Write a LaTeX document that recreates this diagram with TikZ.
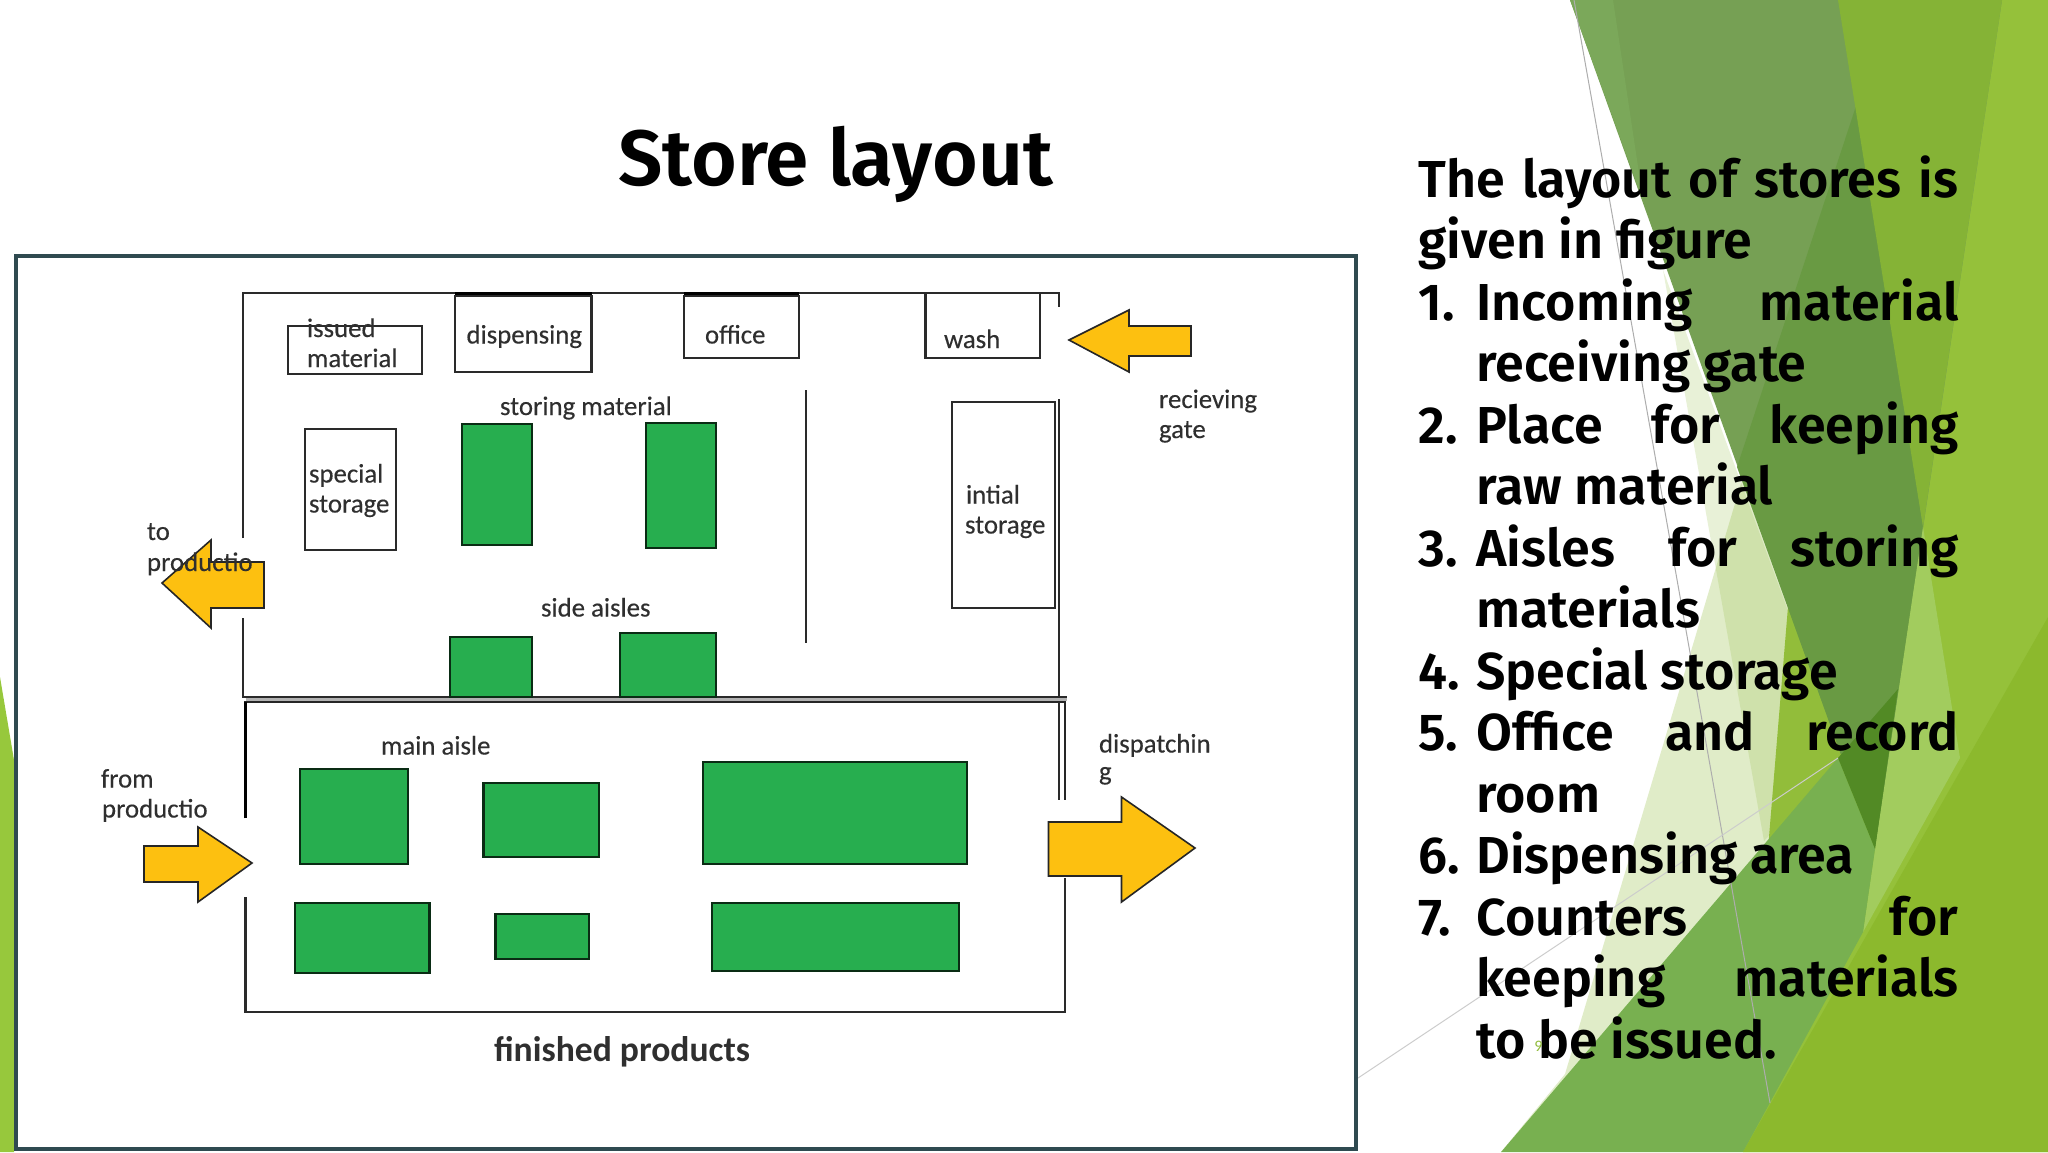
\documentclass[tikz,border=0pt]{standalone}
\usepackage{fontspec}
\setmainfont{Fira Sans}[BoldFont={Fira Sans SemiBold}]
\newfontfamily\lblfont{Carlito}[BoldFont={Carlito},BoldFeatures={FakeBold=0.3}]
\newfontfamily\lblbigfont{Carlito}
\definecolor{framec}{HTML}{2F4A50}
\definecolor{wallc}{HTML}{2A2A2A}
\definecolor{storec}{HTML}{27AE4F}
\definecolor{arrowc}{HTML}{FDC010}
\definecolor{labelc}{HTML}{2F2F2F}
\definecolor{gA}{HTML}{76A054}
\definecolor{gAtwo}{HTML}{699A43}
\definecolor{gAlight}{HTML}{7BA85A}
\definecolor{gB}{HTML}{85B336}
\definecolor{gR}{HTML}{95C13A}
\definecolor{gE}{HTML}{8CB92D}
\definecolor{gD}{HTML}{78B050}
\definecolor{gTip}{HTML}{528A25}
\definecolor{gL}{HTML}{A2CC5E}
\definecolor{gBase}{HTML}{90BB3A}
\definecolor{gBar}{HTML}{97C83C}
\tikzset{
  wall/.style={draw=wallc,line width=1.1pt,line cap=butt},
  wallthick/.style={draw=black,line width=1.6pt},
  whitebox/.style={draw=wallc,line width=1.1pt,fill=white},
  greenbox/.style={draw=black!75!storec,line width=1.1pt,fill=storec},
  yarrow/.style={draw=black!85,line width=0.8pt,fill=arrowc,line join=miter},
  lbl/.style={anchor=base west,inner sep=0pt,outer sep=0pt,text=labelc,font=\lblfont\bfseries\fontsize{13.4}{14}\selectfont},
  lblbig/.style={lbl,font=\lblbigfont\bfseries\fontsize{17.8}{18}\selectfont},
  thinline/.style={draw=#1,line width=0.5pt},
}
\newcommand\zone[6]{%
  \pgfmathsetmacro\zw{(#5-#3)*0.5}\pgfmathsetmacro\zh{(#6-#4)*0.5}%
  \node[#2,minimum width=\zw pt,minimum height=\zh pt,anchor=north west,inner sep=0pt,outer sep=0pt] (#1) at (#3,#4) {};}
\newcommand\itm[2]{\par\leftskip=29pt\noindent\llap{\hbox to 29pt{#1\hfil}}#2}
\begin{document}
\begin{tikzpicture}[x=0.5pt,y=-0.5pt]
\useasboundingbox (0,0) rectangle (2048,1152);
\fill[white] (0,0) rectangle (2048,1152);
% --- background facets
\fill[gBar] (0,677) -- (14,760) -- (14,1152) -- (0,1152) -- cycle;
\fill[gR] (1838,0) -- (2048,0) -- (2048,1152) -- (1743,1152) -- cycle;
\fill[gBase,opacity=.2] (1663,270) -- (1764,841) -- (1842,758) -- cycle;
\fill[gBase,opacity=.28] (1742,480) -- (1565,1074) -- (1501,1152) -- (1842,758) -- cycle;
\fill[gA] (1570,0) -- (2002,0) -- (1875,849) -- cycle;
\fill[gAlight] (1570,0) -- (1613,0) -- (1643,200) -- cycle;
\fill[gAtwo] (1857,103) -- (1737,467) -- (1875,849) -- (1923,527) -- cycle;
\fill[gB] (1838,0) -- (2002,0) -- (1923,527) -- cycle;
\fill[gL] (1923,527) -- (1960,758) -- (1863,932) -- (1875,849) -- cycle;
\fill[gD] (1501,1152) -- (1838,758) -- (1875,849) -- (1863,932) -- (1743,1152) -- cycle;
\fill[gTip] (1838,758) -- (1898,689) -- (1875,849) -- cycle;
\fill[gE] (2048,617) -- (2048,1152) -- (1743,1152) -- cycle;
\draw[thinline=black!32] (1574,0) -- (1770,1103);
\draw[thinline=black!20] (1358,1078) -- (1838,758);
% --- frame
\zone{frame}{draw=framec,line width=2pt,fill=white}{15.5}{256}{1356}{1149}
% --- title
\node[anchor=base west,inner sep=0pt,font=\bfseries\fontsize{39.2}{41}\selectfont] (title) at (618,185) {Store layout};
% --- right text
\node[anchor=north west,inner sep=0pt,text width=270pt,align=justify,font=\bfseries\fontsize{26}{30.75}\selectfont] (body) at (1418,155) {%
\tolerance=10000\emergencystretch=3em\parindent=0pt
The layout of stores is\linebreak given in figure
\itm{1.}{Incoming material\linebreak receiving gate}
\itm{2.}{Place for keeping\linebreak raw material}
\itm{3.}{Aisles for storing\linebreak materials}
\itm{4.}{Special storage}
\itm{5.}{Office and record\linebreak room}
\itm{6.}{Dispensing area}
\itm{7.}{Counters for\linebreak keeping materials\linebreak to be issued.}\par};
\node[anchor=base west,inner sep=0pt,text=gBase,font=\lblfont\fontsize{8}{9}\selectfont] (pagenum) at (1534,1051) {9};
% --- upper room walls
\draw[wall] (243,538) -- (243,293) -- (1059,293) -- (1059,307);
\draw[wall] (243,618) -- (243,697) -- (1067,697);
\draw[wall] (1059,399) -- (1059,697);
\draw[wall,line width=1pt] (806,390) -- (806,643);
% --- lower room walls
\draw[draw=black!30,line width=1.5pt] (245.5,699.5) -- (1067,699.5);
\draw[wall,draw=black!85] (245.5,818) -- (245.5,702) -- (1065,702) -- (1065,800);
\draw[wallthick] (245.5,818) -- (245.5,702);
\draw[wall] (1059,702) -- (1059,800);
\draw[wall] (245.5,897) -- (245.5,1012) -- (1065,1012) -- (1065,878);
% --- white boxes
\zone{issuedbox}{whitebox}{288}{326}{422}{374}
\draw[wallthick] (455,293.5) -- (591.5,293.5);
\zone{dispbox}{whitebox}{455}{296}{591.5}{372}
\draw[wallthick] (684,293.5) -- (799,293.5);
\zone{officebox}{whitebox}{684}{296}{799}{358}
\zone{washbox}{whitebox}{925.5}{293}{1040}{358}
\zone{specbox}{whitebox}{305}{429}{396}{550}
\zone{initbox}{whitebox}{952}{402}{1055}{608}
% --- green stores
\zone{gone}{greenbox}{462}{424}{532}{545}
\zone{gtwo}{greenbox}{646}{423}{716}{548}
\zone{gthree}{greenbox}{450}{637}{532}{697}
\zone{gfour}{greenbox}{620}{633}{716}{697}
\zone{gfive}{greenbox}{300}{769}{408}{864}
\zone{gsix}{greenbox}{483.5}{783}{599}{857}
\zone{gseven}{greenbox}{295}{903}{429.5}{973}
\zone{geight}{greenbox}{495.5}{914}{589}{959}
\zone{gnine}{greenbox}{703}{762}{967}{864}
\zone{gten}{greenbox}{712}{903}{959}{971}
% --- arrows
\draw[yarrow] (162,583) -- (211,540) -- (211,562) -- (264,562) -- (264,608) -- (211,608) -- (211,628) -- cycle;
\draw[yarrow] (1069,340) -- (1129,310) -- (1129,326) -- (1191,326) -- (1191,356) -- (1129,356) -- (1129,372) -- cycle;
\draw[yarrow] (144,846) -- (198,846) -- (198,827) -- (252,863) -- (198,902) -- (198,882) -- (144,882) -- cycle;
\draw[yarrow] (1048.5,822) -- (1121.5,822) -- (1121.5,797) -- (1195,848) -- (1121.5,902) -- (1121.5,876) -- (1048.5,876) -- cycle;
% --- labels
\node[lbl] (l1) at (307,337) {issued};
\node[lbl] (l2) at (307,367) {material};
\node[lbl] (l3) at (466.5,343.5) {dispensing};
\node[lbl] (l4) at (500,415) {storing material};
\node[lbl] (l5) at (309,482.5) {special};
\node[lbl] (l6) at (309,512.5) {storage};
\node[lbl] (l7) at (147,540) {to};
\node[lbl] (l8) at (147,571) {productio};
\node[lbl] (l9) at (541,616.5) {side aisles};
\node[lbl] (l10) at (705,343.5) {office};
\node[lbl] (l11) at (944,348) {wash};
\node[lbl] (l12) at (1159,408) {recieving};
\node[lbl] (l13) at (1159,438) {gate};
\node[lbl] (l14) at (966,503.5) {intial};
\node[lbl] (l15) at (965,533.5) {storage};
\node[lbl] (l16) at (381,754.5) {main aisle};
\node[lbl] (l17) at (101,787.5) {from};
\node[lbl] (l18) at (102,817.5) {productio};
\node[lbl] (l19) at (1099,752.5) {dispatchin};
\node[lbl] (l20) at (1099,780) {g};
\node[lblbig] (l21) at (494,1061) {finished products};
\end{tikzpicture}
\end{document}
